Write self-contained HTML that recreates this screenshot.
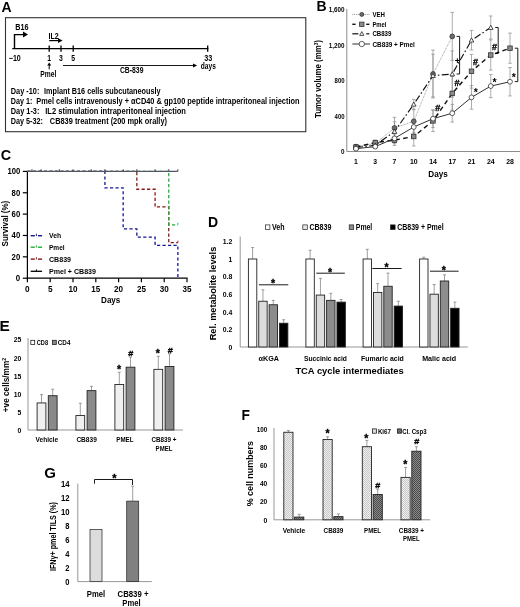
<!DOCTYPE html>
<html lang="en"><head><meta charset="utf-8"><title>Figure</title>
<style>
html,body{margin:0;padding:0;background:#fff;}
body{width:520px;height:607px;overflow:hidden;}
svg{display:block;font-family:'Liberation Sans', sans-serif;}
</style></head><body>
<svg width="520" height="607" viewBox="0 0 520 607">
<defs>
<pattern id="pk" width="2" height="2" patternUnits="userSpaceOnUse"><rect width="2" height="2" fill="#f0f0f0"/><rect width="1" height="1" fill="#c6c6c6"/><rect x="1" y="1" width="1" height="1" fill="#c6c6c6"/></pattern>
<pattern id="pc" width="2" height="2" patternUnits="userSpaceOnUse"><rect width="2" height="2" fill="#8a8a8a"/><rect width="1" height="1" fill="#4a4a4a"/><rect x="1" y="1" width="1" height="1" fill="#4a4a4a"/></pattern>
</defs>
<rect width="520" height="607" fill="#fff"/>
<g id="panelA">
<text x="1.50" y="12.00" font-size="14" font-weight="bold" text-anchor="start" fill="#000">A</text>
<rect x="5.50" y="17.70" width="300.30" height="114.00" fill="none" stroke="#333" stroke-width="1.1"/>
<line x1="12.30" y1="48.60" x2="208.30" y2="48.60" stroke="#000" stroke-width="1.4"/>
<path d="M14.5 48.6 V34.6 H24" fill="none" stroke="#000" stroke-width="1.4"/>
<path d="M23 31.6 L28 34.6 L23 37.6 Z" fill="#000" stroke="none" stroke-width="1"/>
<text x="15.20" y="30.20" font-size="9" font-weight="bold" text-anchor="start" fill="#000" textLength="13.20" lengthAdjust="spacingAndGlyphs">B16</text>
<text x="48.60" y="39.20" font-size="9" font-weight="bold" text-anchor="start" fill="#000" textLength="10.20" lengthAdjust="spacingAndGlyphs">IL2</text>
<line x1="49.20" y1="40.60" x2="59.00" y2="40.60" stroke="#000" stroke-width="1.2"/>
<path d="M58 38.2 L62.6 40.6 L58 43 Z" fill="#000" stroke="none" stroke-width="1"/>
<line x1="49.20" y1="45.40" x2="49.20" y2="51.80" stroke="#000" stroke-width="1.3"/>
<line x1="61.00" y1="45.40" x2="61.00" y2="51.80" stroke="#000" stroke-width="1.3"/>
<line x1="73.20" y1="45.40" x2="73.20" y2="51.80" stroke="#000" stroke-width="1.3"/>
<line x1="207.70" y1="45.40" x2="207.70" y2="51.80" stroke="#000" stroke-width="1.3"/>
<text x="14.80" y="60.60" font-size="8.6" font-weight="bold" text-anchor="middle" fill="#000" textLength="12.00" lengthAdjust="spacingAndGlyphs">−10</text>
<text x="49.20" y="60.60" font-size="8.6" font-weight="bold" text-anchor="middle" fill="#000" textLength="3.80" lengthAdjust="spacingAndGlyphs">1</text>
<text x="61.00" y="60.60" font-size="8.6" font-weight="bold" text-anchor="middle" fill="#000" textLength="3.80" lengthAdjust="spacingAndGlyphs">3</text>
<text x="73.20" y="60.60" font-size="8.6" font-weight="bold" text-anchor="middle" fill="#000" textLength="3.80" lengthAdjust="spacingAndGlyphs">5</text>
<text x="208.30" y="60.60" font-size="8.6" font-weight="bold" text-anchor="middle" fill="#000" textLength="8.00" lengthAdjust="spacingAndGlyphs">33</text>
<text x="208.30" y="68.60" font-size="8.6" font-weight="bold" text-anchor="middle" fill="#000" textLength="15.00" lengthAdjust="spacingAndGlyphs">days</text>
<line x1="49.20" y1="69.40" x2="49.20" y2="64.50" stroke="#000" stroke-width="1"/>
<path d="M47.2 65.6 L49.2 62.4 L51.2 65.6 Z" fill="#000" stroke="none" stroke-width="1"/>
<text x="48.30" y="76.80" font-size="8.6" font-weight="bold" text-anchor="middle" fill="#000" textLength="16.00" lengthAdjust="spacingAndGlyphs">Pmel</text>
<line x1="63.00" y1="65.50" x2="194.00" y2="65.50" stroke="#000" stroke-width="0.9"/>
<path d="M193 63.5 L197.2 65.5 L193 67.5 Z" fill="#000" stroke="none" stroke-width="1"/>
<text x="131.70" y="73.20" font-size="8.6" font-weight="bold" text-anchor="middle" fill="#000" textLength="23.50" lengthAdjust="spacingAndGlyphs">CB-839</text>
<text x="10.80" y="93.90" font-size="9" font-weight="bold" text-anchor="start" fill="#000" textLength="28.60" lengthAdjust="spacingAndGlyphs">Day -10:</text>
<text x="44.00" y="93.90" font-size="9" font-weight="bold" text-anchor="start" fill="#000" textLength="116.50" lengthAdjust="spacingAndGlyphs">Implant B16 cells subcutaneously</text>
<text x="10.80" y="103.90" font-size="9" font-weight="bold" text-anchor="start" fill="#000" textLength="21.50" lengthAdjust="spacingAndGlyphs">Day 1:</text>
<text x="36.30" y="103.90" font-size="9" font-weight="bold" text-anchor="start" fill="#000" textLength="263.20" lengthAdjust="spacingAndGlyphs">Pmel cells intravenously + αCD40 &amp; gp100 peptide intraperitoneal injection</text>
<text x="10.80" y="113.80" font-size="9" font-weight="bold" text-anchor="start" fill="#000" textLength="28.60" lengthAdjust="spacingAndGlyphs">Day 1-3:</text>
<text x="45.20" y="113.80" font-size="9" font-weight="bold" text-anchor="start" fill="#000" textLength="140.80" lengthAdjust="spacingAndGlyphs">IL2 stimulation intraperitoneal injection</text>
<text x="10.80" y="123.70" font-size="9" font-weight="bold" text-anchor="start" fill="#000" textLength="32.20" lengthAdjust="spacingAndGlyphs">Day 5-32:</text>
<text x="49.80" y="123.70" font-size="9" font-weight="bold" text-anchor="start" fill="#000" textLength="117.20" lengthAdjust="spacingAndGlyphs">CB839 treatment (200 mpk orally)</text>
</g>
<g id="panelB">
<text x="316.50" y="11.20" font-size="14" font-weight="bold" text-anchor="start" fill="#000">B</text>
<line x1="346.80" y1="9.00" x2="346.80" y2="151.50" stroke="#8c8c8c" stroke-width="1"/>
<line x1="346.80" y1="151.50" x2="520.00" y2="151.50" stroke="#8c8c8c" stroke-width="1"/>
<text x="344.60" y="12.00" font-size="7" font-weight="bold" text-anchor="end" fill="#000" textLength="15.80" lengthAdjust="spacingAndGlyphs">1,600</text>
<text x="344.60" y="47.50" font-size="7" font-weight="bold" text-anchor="end" fill="#000" textLength="15.80" lengthAdjust="spacingAndGlyphs">1,200</text>
<text x="344.60" y="83.00" font-size="7" font-weight="bold" text-anchor="end" fill="#000" textLength="10.00" lengthAdjust="spacingAndGlyphs">800</text>
<text x="344.60" y="118.50" font-size="7" font-weight="bold" text-anchor="end" fill="#000" textLength="10.00" lengthAdjust="spacingAndGlyphs">400</text>
<text x="344.60" y="154.00" font-size="7" font-weight="bold" text-anchor="end" fill="#000" textLength="3.50" lengthAdjust="spacingAndGlyphs">0</text>
<text x="356.00" y="164.00" font-size="7.6" font-weight="bold" text-anchor="middle" fill="#000" textLength="3.80" lengthAdjust="spacingAndGlyphs">1</text>
<text x="375.25" y="164.00" font-size="7.6" font-weight="bold" text-anchor="middle" fill="#000" textLength="3.80" lengthAdjust="spacingAndGlyphs">3</text>
<text x="394.50" y="164.00" font-size="7.6" font-weight="bold" text-anchor="middle" fill="#000" textLength="3.80" lengthAdjust="spacingAndGlyphs">7</text>
<text x="413.75" y="164.00" font-size="7.6" font-weight="bold" text-anchor="middle" fill="#000" textLength="7.70" lengthAdjust="spacingAndGlyphs">10</text>
<text x="433.00" y="164.00" font-size="7.6" font-weight="bold" text-anchor="middle" fill="#000" textLength="7.70" lengthAdjust="spacingAndGlyphs">14</text>
<text x="452.25" y="164.00" font-size="7.6" font-weight="bold" text-anchor="middle" fill="#000" textLength="7.70" lengthAdjust="spacingAndGlyphs">17</text>
<text x="471.50" y="164.00" font-size="7.6" font-weight="bold" text-anchor="middle" fill="#000" textLength="7.70" lengthAdjust="spacingAndGlyphs">21</text>
<text x="490.75" y="164.00" font-size="7.6" font-weight="bold" text-anchor="middle" fill="#000" textLength="7.70" lengthAdjust="spacingAndGlyphs">24</text>
<text x="510.00" y="164.00" font-size="7.6" font-weight="bold" text-anchor="middle" fill="#000" textLength="7.70" lengthAdjust="spacingAndGlyphs">28</text>
<text x="438.00" y="176.60" font-size="9.7" font-weight="bold" text-anchor="middle" fill="#000" textLength="19.50" lengthAdjust="spacingAndGlyphs">Days</text>
<text x="321.20" y="79.00" font-size="9.2" font-weight="bold" text-anchor="middle" fill="#000" textLength="78.00" lengthAdjust="spacingAndGlyphs" transform="rotate(-90 321.20 79.00)">Tumor volume (mm<tspan font-size="5.4" dy="-3">3</tspan><tspan dy="3">)</tspan></text>
<line x1="356.00" y1="144.84" x2="356.00" y2="148.39" stroke="#8a8a8a" stroke-width="0.7"/>
<line x1="354.20" y1="144.84" x2="357.80" y2="144.84" stroke="#8a8a8a" stroke-width="0.7"/>
<line x1="354.20" y1="148.39" x2="357.80" y2="148.39" stroke="#8a8a8a" stroke-width="0.7"/>
<line x1="375.25" y1="140.85" x2="375.25" y2="146.18" stroke="#8a8a8a" stroke-width="0.7"/>
<line x1="373.45" y1="140.85" x2="377.05" y2="140.85" stroke="#8a8a8a" stroke-width="0.7"/>
<line x1="373.45" y1="146.18" x2="377.05" y2="146.18" stroke="#8a8a8a" stroke-width="0.7"/>
<line x1="394.50" y1="117.33" x2="394.50" y2="138.63" stroke="#8a8a8a" stroke-width="0.7"/>
<line x1="392.70" y1="117.33" x2="396.30" y2="117.33" stroke="#8a8a8a" stroke-width="0.7"/>
<line x1="392.70" y1="138.63" x2="396.30" y2="138.63" stroke="#8a8a8a" stroke-width="0.7"/>
<line x1="413.75" y1="109.79" x2="413.75" y2="132.86" stroke="#8a8a8a" stroke-width="0.7"/>
<line x1="411.95" y1="109.79" x2="415.55" y2="109.79" stroke="#8a8a8a" stroke-width="0.7"/>
<line x1="411.95" y1="132.86" x2="415.55" y2="132.86" stroke="#8a8a8a" stroke-width="0.7"/>
<line x1="433.00" y1="50.06" x2="433.00" y2="97.98" stroke="#8a8a8a" stroke-width="0.7"/>
<line x1="431.20" y1="50.06" x2="434.80" y2="50.06" stroke="#8a8a8a" stroke-width="0.7"/>
<line x1="431.20" y1="97.98" x2="434.80" y2="97.98" stroke="#8a8a8a" stroke-width="0.7"/>
<line x1="452.25" y1="12.43" x2="452.25" y2="60.35" stroke="#8a8a8a" stroke-width="0.7"/>
<line x1="450.45" y1="12.43" x2="454.05" y2="12.43" stroke="#8a8a8a" stroke-width="0.7"/>
<line x1="450.45" y1="60.35" x2="454.05" y2="60.35" stroke="#8a8a8a" stroke-width="0.7"/>
<line x1="356.00" y1="145.29" x2="356.00" y2="148.84" stroke="#8a8a8a" stroke-width="0.7"/>
<line x1="354.20" y1="145.29" x2="357.80" y2="145.29" stroke="#8a8a8a" stroke-width="0.7"/>
<line x1="354.20" y1="148.84" x2="357.80" y2="148.84" stroke="#8a8a8a" stroke-width="0.7"/>
<line x1="375.25" y1="139.96" x2="375.25" y2="145.29" stroke="#8a8a8a" stroke-width="0.7"/>
<line x1="373.45" y1="139.96" x2="377.05" y2="139.96" stroke="#8a8a8a" stroke-width="0.7"/>
<line x1="373.45" y1="145.29" x2="377.05" y2="145.29" stroke="#8a8a8a" stroke-width="0.7"/>
<line x1="394.50" y1="134.81" x2="394.50" y2="145.47" stroke="#8a8a8a" stroke-width="0.7"/>
<line x1="392.70" y1="134.81" x2="396.30" y2="134.81" stroke="#8a8a8a" stroke-width="0.7"/>
<line x1="392.70" y1="145.47" x2="396.30" y2="145.47" stroke="#8a8a8a" stroke-width="0.7"/>
<line x1="413.75" y1="127.00" x2="413.75" y2="146.00" stroke="#8a8a8a" stroke-width="0.7"/>
<line x1="411.95" y1="127.00" x2="415.55" y2="127.00" stroke="#8a8a8a" stroke-width="0.7"/>
<line x1="411.95" y1="146.00" x2="415.55" y2="146.00" stroke="#8a8a8a" stroke-width="0.7"/>
<line x1="433.00" y1="110.23" x2="433.00" y2="131.53" stroke="#8a8a8a" stroke-width="0.7"/>
<line x1="431.20" y1="110.23" x2="434.80" y2="110.23" stroke="#8a8a8a" stroke-width="0.7"/>
<line x1="431.20" y1="131.53" x2="434.80" y2="131.53" stroke="#8a8a8a" stroke-width="0.7"/>
<line x1="452.25" y1="76.51" x2="452.25" y2="110.23" stroke="#8a8a8a" stroke-width="0.7"/>
<line x1="450.45" y1="76.51" x2="454.05" y2="76.51" stroke="#8a8a8a" stroke-width="0.7"/>
<line x1="450.45" y1="110.23" x2="454.05" y2="110.23" stroke="#8a8a8a" stroke-width="0.7"/>
<line x1="471.50" y1="54.41" x2="471.50" y2="88.13" stroke="#8a8a8a" stroke-width="0.7"/>
<line x1="469.70" y1="54.41" x2="473.30" y2="54.41" stroke="#8a8a8a" stroke-width="0.7"/>
<line x1="469.70" y1="88.13" x2="473.30" y2="88.13" stroke="#8a8a8a" stroke-width="0.7"/>
<line x1="490.75" y1="39.94" x2="490.75" y2="70.12" stroke="#8a8a8a" stroke-width="0.7"/>
<line x1="488.95" y1="39.94" x2="492.55" y2="39.94" stroke="#8a8a8a" stroke-width="0.7"/>
<line x1="488.95" y1="70.12" x2="492.55" y2="70.12" stroke="#8a8a8a" stroke-width="0.7"/>
<line x1="510.00" y1="33.11" x2="510.00" y2="63.28" stroke="#8a8a8a" stroke-width="0.7"/>
<line x1="508.20" y1="33.11" x2="511.80" y2="33.11" stroke="#8a8a8a" stroke-width="0.7"/>
<line x1="508.20" y1="63.28" x2="511.80" y2="63.28" stroke="#8a8a8a" stroke-width="0.7"/>
<line x1="356.00" y1="145.73" x2="356.00" y2="149.28" stroke="#8a8a8a" stroke-width="0.7"/>
<line x1="354.20" y1="145.73" x2="357.80" y2="145.73" stroke="#8a8a8a" stroke-width="0.7"/>
<line x1="354.20" y1="149.28" x2="357.80" y2="149.28" stroke="#8a8a8a" stroke-width="0.7"/>
<line x1="375.25" y1="142.62" x2="375.25" y2="147.95" stroke="#8a8a8a" stroke-width="0.7"/>
<line x1="373.45" y1="142.62" x2="377.05" y2="142.62" stroke="#8a8a8a" stroke-width="0.7"/>
<line x1="373.45" y1="147.95" x2="377.05" y2="147.95" stroke="#8a8a8a" stroke-width="0.7"/>
<line x1="394.50" y1="121.77" x2="394.50" y2="141.29" stroke="#8a8a8a" stroke-width="0.7"/>
<line x1="392.70" y1="121.77" x2="396.30" y2="121.77" stroke="#8a8a8a" stroke-width="0.7"/>
<line x1="392.70" y1="141.29" x2="396.30" y2="141.29" stroke="#8a8a8a" stroke-width="0.7"/>
<line x1="413.75" y1="99.40" x2="413.75" y2="109.17" stroke="#8a8a8a" stroke-width="0.7"/>
<line x1="411.95" y1="99.40" x2="415.55" y2="99.40" stroke="#8a8a8a" stroke-width="0.7"/>
<line x1="411.95" y1="109.17" x2="415.55" y2="109.17" stroke="#8a8a8a" stroke-width="0.7"/>
<line x1="433.00" y1="54.32" x2="433.00" y2="96.92" stroke="#8a8a8a" stroke-width="0.7"/>
<line x1="431.20" y1="54.32" x2="434.80" y2="54.32" stroke="#8a8a8a" stroke-width="0.7"/>
<line x1="431.20" y1="96.92" x2="434.80" y2="96.92" stroke="#8a8a8a" stroke-width="0.7"/>
<line x1="452.25" y1="50.95" x2="452.25" y2="97.10" stroke="#8a8a8a" stroke-width="0.7"/>
<line x1="450.45" y1="50.95" x2="454.05" y2="50.95" stroke="#8a8a8a" stroke-width="0.7"/>
<line x1="450.45" y1="97.10" x2="454.05" y2="97.10" stroke="#8a8a8a" stroke-width="0.7"/>
<line x1="471.50" y1="30.45" x2="471.50" y2="49.97" stroke="#8a8a8a" stroke-width="0.7"/>
<line x1="469.70" y1="30.45" x2="473.30" y2="30.45" stroke="#8a8a8a" stroke-width="0.7"/>
<line x1="469.70" y1="49.97" x2="473.30" y2="49.97" stroke="#8a8a8a" stroke-width="0.7"/>
<line x1="490.75" y1="15.98" x2="490.75" y2="39.05" stroke="#8a8a8a" stroke-width="0.7"/>
<line x1="488.95" y1="15.98" x2="492.55" y2="15.98" stroke="#8a8a8a" stroke-width="0.7"/>
<line x1="488.95" y1="39.05" x2="492.55" y2="39.05" stroke="#8a8a8a" stroke-width="0.7"/>
<line x1="356.00" y1="147.33" x2="356.00" y2="149.99" stroke="#8a8a8a" stroke-width="0.7"/>
<line x1="354.20" y1="147.33" x2="357.80" y2="147.33" stroke="#8a8a8a" stroke-width="0.7"/>
<line x1="354.20" y1="149.99" x2="357.80" y2="149.99" stroke="#8a8a8a" stroke-width="0.7"/>
<line x1="375.25" y1="144.84" x2="375.25" y2="148.39" stroke="#8a8a8a" stroke-width="0.7"/>
<line x1="373.45" y1="144.84" x2="377.05" y2="144.84" stroke="#8a8a8a" stroke-width="0.7"/>
<line x1="373.45" y1="148.39" x2="377.05" y2="148.39" stroke="#8a8a8a" stroke-width="0.7"/>
<line x1="394.50" y1="133.04" x2="394.50" y2="143.69" stroke="#8a8a8a" stroke-width="0.7"/>
<line x1="392.70" y1="133.04" x2="396.30" y2="133.04" stroke="#8a8a8a" stroke-width="0.7"/>
<line x1="392.70" y1="143.69" x2="396.30" y2="143.69" stroke="#8a8a8a" stroke-width="0.7"/>
<line x1="413.75" y1="119.91" x2="413.75" y2="134.10" stroke="#8a8a8a" stroke-width="0.7"/>
<line x1="411.95" y1="119.91" x2="415.55" y2="119.91" stroke="#8a8a8a" stroke-width="0.7"/>
<line x1="411.95" y1="134.10" x2="415.55" y2="134.10" stroke="#8a8a8a" stroke-width="0.7"/>
<line x1="433.00" y1="109.79" x2="433.00" y2="127.54" stroke="#8a8a8a" stroke-width="0.7"/>
<line x1="431.20" y1="109.79" x2="434.80" y2="109.79" stroke="#8a8a8a" stroke-width="0.7"/>
<line x1="431.20" y1="127.54" x2="434.80" y2="127.54" stroke="#8a8a8a" stroke-width="0.7"/>
<line x1="452.25" y1="104.37" x2="452.25" y2="122.12" stroke="#8a8a8a" stroke-width="0.7"/>
<line x1="450.45" y1="104.37" x2="454.05" y2="104.37" stroke="#8a8a8a" stroke-width="0.7"/>
<line x1="450.45" y1="122.12" x2="454.05" y2="122.12" stroke="#8a8a8a" stroke-width="0.7"/>
<line x1="471.50" y1="85.56" x2="471.50" y2="109.17" stroke="#8a8a8a" stroke-width="0.7"/>
<line x1="469.70" y1="85.56" x2="473.30" y2="85.56" stroke="#8a8a8a" stroke-width="0.7"/>
<line x1="469.70" y1="109.17" x2="473.30" y2="109.17" stroke="#8a8a8a" stroke-width="0.7"/>
<line x1="490.75" y1="74.55" x2="490.75" y2="97.63" stroke="#8a8a8a" stroke-width="0.7"/>
<line x1="488.95" y1="74.55" x2="492.55" y2="74.55" stroke="#8a8a8a" stroke-width="0.7"/>
<line x1="488.95" y1="97.63" x2="492.55" y2="97.63" stroke="#8a8a8a" stroke-width="0.7"/>
<line x1="510.00" y1="67.54" x2="510.00" y2="95.94" stroke="#8a8a8a" stroke-width="0.7"/>
<line x1="508.20" y1="67.54" x2="511.80" y2="67.54" stroke="#8a8a8a" stroke-width="0.7"/>
<line x1="508.20" y1="95.94" x2="511.80" y2="95.94" stroke="#8a8a8a" stroke-width="0.7"/>
<polyline points="356.00,146.62 375.25,143.51 394.50,127.98 413.75,121.33 433.00,74.02 452.25,36.39" fill="none" stroke="#555" stroke-width="0.6" stroke-dasharray="0.8 0.8"/>
<polyline points="356.00,147.06 375.25,142.62 394.50,140.14 413.75,136.50 433.00,120.88 452.25,93.37 471.50,71.27 490.75,55.03 510.00,48.20" fill="none" stroke="#111" stroke-width="1.45" stroke-dasharray="4.6 3.4"/>
<polyline points="356.00,147.51 375.25,145.29 394.50,131.53 413.75,104.28 433.00,75.62 452.25,74.02 471.50,40.21 490.75,27.52" fill="none" stroke="#111" stroke-width="1.15" stroke-dasharray="7 2.4 1.5 2.4"/>
<polyline points="356.00,148.66 375.25,146.62 394.50,138.37 413.75,127.00 433.00,118.66 452.25,113.25 471.50,97.36 490.75,86.09 510.00,81.74" fill="none" stroke="#333" stroke-width="1"/>
<circle cx="356.00" cy="146.62" r="2.4" fill="#6e6e6e" stroke="#222" stroke-width="0.7"/>
<circle cx="375.25" cy="143.51" r="2.4" fill="#6e6e6e" stroke="#222" stroke-width="0.7"/>
<circle cx="394.50" cy="127.98" r="2.4" fill="#6e6e6e" stroke="#222" stroke-width="0.7"/>
<circle cx="413.75" cy="121.33" r="2.4" fill="#6e6e6e" stroke="#222" stroke-width="0.7"/>
<circle cx="433.00" cy="74.02" r="2.4" fill="#6e6e6e" stroke="#222" stroke-width="0.7"/>
<circle cx="452.25" cy="36.39" r="2.4" fill="#6e6e6e" stroke="#222" stroke-width="0.7"/>
<rect x="353.75" y="144.81" width="4.50" height="4.50" fill="#8a8a8a" stroke="#333" stroke-width="0.8"/>
<rect x="373.00" y="140.38" width="4.50" height="4.50" fill="#8a8a8a" stroke="#333" stroke-width="0.8"/>
<rect x="392.25" y="137.89" width="4.50" height="4.50" fill="#8a8a8a" stroke="#333" stroke-width="0.8"/>
<rect x="411.50" y="134.25" width="4.50" height="4.50" fill="#8a8a8a" stroke="#333" stroke-width="0.8"/>
<rect x="430.75" y="118.63" width="4.50" height="4.50" fill="#8a8a8a" stroke="#333" stroke-width="0.8"/>
<rect x="450.00" y="91.12" width="4.50" height="4.50" fill="#8a8a8a" stroke="#333" stroke-width="0.8"/>
<rect x="469.25" y="69.02" width="4.50" height="4.50" fill="#8a8a8a" stroke="#333" stroke-width="0.8"/>
<rect x="488.50" y="52.78" width="4.50" height="4.50" fill="#8a8a8a" stroke="#333" stroke-width="0.8"/>
<rect x="507.75" y="45.95" width="4.50" height="4.50" fill="#8a8a8a" stroke="#333" stroke-width="0.8"/>
<path d="M356.00 145.21 L358.30 149.35 L353.70 149.35 Z" fill="#fff" stroke="#222" stroke-width="0.8"/>
<path d="M375.25 142.99 L377.55 147.13 L372.95 147.13 Z" fill="#fff" stroke="#222" stroke-width="0.8"/>
<path d="M394.50 129.23 L396.80 133.37 L392.20 133.37 Z" fill="#fff" stroke="#222" stroke-width="0.8"/>
<path d="M413.75 101.98 L416.05 106.12 L411.45 106.12 Z" fill="#fff" stroke="#222" stroke-width="0.8"/>
<path d="M433.00 73.32 L435.30 77.46 L430.70 77.46 Z" fill="#fff" stroke="#222" stroke-width="0.8"/>
<path d="M452.25 71.72 L454.55 75.86 L449.95 75.86 Z" fill="#fff" stroke="#222" stroke-width="0.8"/>
<path d="M471.50 37.91 L473.80 42.05 L469.20 42.05 Z" fill="#fff" stroke="#222" stroke-width="0.8"/>
<path d="M490.75 25.22 L493.05 29.36 L488.45 29.36 Z" fill="#fff" stroke="#222" stroke-width="0.8"/>
<circle cx="356.00" cy="148.66" r="2.4" fill="#fff" stroke="#222" stroke-width="0.7"/>
<circle cx="375.25" cy="146.62" r="2.4" fill="#fff" stroke="#222" stroke-width="0.7"/>
<circle cx="394.50" cy="138.37" r="2.4" fill="#fff" stroke="#222" stroke-width="0.7"/>
<circle cx="413.75" cy="127.00" r="2.4" fill="#fff" stroke="#222" stroke-width="0.7"/>
<circle cx="433.00" cy="118.66" r="2.4" fill="#fff" stroke="#222" stroke-width="0.7"/>
<circle cx="452.25" cy="113.25" r="2.4" fill="#fff" stroke="#222" stroke-width="0.7"/>
<circle cx="471.50" cy="97.36" r="2.4" fill="#fff" stroke="#222" stroke-width="0.7"/>
<circle cx="490.75" cy="86.09" r="2.4" fill="#fff" stroke="#222" stroke-width="0.7"/>
<circle cx="510.00" cy="81.74" r="2.4" fill="#fff" stroke="#222" stroke-width="0.7"/>
<line x1="352.30" y1="14.40" x2="369.40" y2="14.40" stroke="#555" stroke-width="0.7" stroke-dasharray="0.9 0.9"/>
<circle cx="361.80" cy="14.40" r="2.0" fill="#6e6e6e" stroke="#222" stroke-width="0.7"/>
<text x="372.40" y="16.90" font-size="7.4" font-weight="bold" text-anchor="start" fill="#000" textLength="12.50" lengthAdjust="spacingAndGlyphs">VEH</text>
<line x1="352.30" y1="24.30" x2="355.60" y2="24.30" stroke="#111" stroke-width="1.4"/>
<line x1="366.20" y1="24.30" x2="369.40" y2="24.30" stroke="#111" stroke-width="1.4"/>
<rect x="359.60" y="22.10" width="4.40" height="4.40" fill="#8a8a8a" stroke="#333" stroke-width="0.8"/>
<text x="372.40" y="26.80" font-size="7.4" font-weight="bold" text-anchor="start" fill="#000" textLength="14.00" lengthAdjust="spacingAndGlyphs">Pmel</text>
<line x1="352.30" y1="33.80" x2="358.40" y2="33.80" stroke="#111" stroke-width="1.2"/>
<line x1="366.20" y1="33.80" x2="369.40" y2="33.80" stroke="#111" stroke-width="1.2"/>
<path d="M361.80 31.60 L363.90 35.38 L359.70 35.38 Z" fill="#fff" stroke="#222" stroke-width="0.8"/>
<text x="372.40" y="36.30" font-size="7.4" font-weight="bold" text-anchor="start" fill="#000" textLength="19.00" lengthAdjust="spacingAndGlyphs">CB839</text>
<line x1="352.30" y1="44.00" x2="370.00" y2="44.00" stroke="#333" stroke-width="1"/>
<circle cx="361.80" cy="44.00" r="2.7" fill="#fff" stroke="#222" stroke-width="0.7"/>
<text x="372.40" y="46.50" font-size="7.4" font-weight="bold" text-anchor="start" fill="#000" textLength="42.50" lengthAdjust="spacingAndGlyphs">CB839 + Pmel</text>
<path d="M456.6 36.4 H459.6 V74.0 H456.6" fill="none" stroke="#000" stroke-width="0.9"/>
<path d="M495.2 27.5 H498.2 V53.5 H495.2" fill="none" stroke="#000" stroke-width="0.9"/>
<path d="M514.8 48.2 H517.8 V81.6 H514.8" fill="none" stroke="#000" stroke-width="0.9"/>
<text x="457.40" y="63.80" font-size="9" font-weight="bold" text-anchor="middle" fill="#000">+</text>
<text x="437.80" y="110.60" font-size="9" font-weight="bold" text-anchor="middle" fill="#000" stroke="#000" stroke-width="0.35">#</text>
<text x="457.00" y="86.20" font-size="9" font-weight="bold" text-anchor="middle" fill="#000" stroke="#000" stroke-width="0.35">#</text>
<text x="475.40" y="65.00" font-size="9" font-weight="bold" text-anchor="middle" fill="#000" stroke="#000" stroke-width="0.35">#</text>
<text x="494.60" y="50.20" font-size="9" font-weight="bold" text-anchor="middle" fill="#000" stroke="#000" stroke-width="0.35">#</text>
<text x="475.80" y="96.40" font-size="10.5" font-weight="bold" text-anchor="middle" fill="#000">*</text>
<text x="494.60" y="86.40" font-size="10.5" font-weight="bold" text-anchor="middle" fill="#000">*</text>
<text x="513.80" y="81.20" font-size="10.5" font-weight="bold" text-anchor="middle" fill="#000">*</text>
</g>
<g id="panelC">
<text x="0.80" y="159.60" font-size="14.4" font-weight="bold" text-anchor="start" fill="#000">C</text>
<line x1="27.40" y1="170.90" x2="27.40" y2="278.80" stroke="#000" stroke-width="1.2"/>
<line x1="26.80" y1="278.20" x2="187.60" y2="278.20" stroke="#000" stroke-width="1.2"/>
<line x1="22.80" y1="278.20" x2="27.40" y2="278.20" stroke="#000" stroke-width="1.2"/>
<text x="20.20" y="281.10" font-size="8.3" font-weight="bold" text-anchor="end" fill="#000" textLength="4.40" lengthAdjust="spacingAndGlyphs">0</text>
<line x1="22.80" y1="256.84" x2="27.40" y2="256.84" stroke="#000" stroke-width="1.2"/>
<text x="20.20" y="259.74" font-size="8.3" font-weight="bold" text-anchor="end" fill="#000" textLength="8.60" lengthAdjust="spacingAndGlyphs">20</text>
<line x1="22.80" y1="235.48" x2="27.40" y2="235.48" stroke="#000" stroke-width="1.2"/>
<text x="20.20" y="238.38" font-size="8.3" font-weight="bold" text-anchor="end" fill="#000" textLength="8.60" lengthAdjust="spacingAndGlyphs">40</text>
<line x1="22.80" y1="214.12" x2="27.40" y2="214.12" stroke="#000" stroke-width="1.2"/>
<text x="20.20" y="217.02" font-size="8.3" font-weight="bold" text-anchor="end" fill="#000" textLength="8.60" lengthAdjust="spacingAndGlyphs">60</text>
<line x1="22.80" y1="192.76" x2="27.40" y2="192.76" stroke="#000" stroke-width="1.2"/>
<text x="20.20" y="195.66" font-size="8.3" font-weight="bold" text-anchor="end" fill="#000" textLength="8.60" lengthAdjust="spacingAndGlyphs">80</text>
<line x1="22.80" y1="171.40" x2="27.40" y2="171.40" stroke="#000" stroke-width="1.2"/>
<text x="20.20" y="174.30" font-size="8.3" font-weight="bold" text-anchor="end" fill="#000" textLength="12.80" lengthAdjust="spacingAndGlyphs">100</text>
<line x1="27.40" y1="278.20" x2="27.40" y2="282.20" stroke="#000" stroke-width="1.2"/>
<text x="27.40" y="292.20" font-size="8.3" font-weight="bold" text-anchor="middle" fill="#000" textLength="4.60" lengthAdjust="spacingAndGlyphs">0</text>
<line x1="50.20" y1="278.20" x2="50.20" y2="282.20" stroke="#000" stroke-width="1.2"/>
<text x="50.20" y="292.20" font-size="8.3" font-weight="bold" text-anchor="middle" fill="#000" textLength="4.60" lengthAdjust="spacingAndGlyphs">5</text>
<line x1="73.00" y1="278.20" x2="73.00" y2="282.20" stroke="#000" stroke-width="1.2"/>
<text x="73.00" y="292.20" font-size="8.3" font-weight="bold" text-anchor="middle" fill="#000" textLength="9.00" lengthAdjust="spacingAndGlyphs">10</text>
<line x1="95.80" y1="278.20" x2="95.80" y2="282.20" stroke="#000" stroke-width="1.2"/>
<text x="95.80" y="292.20" font-size="8.3" font-weight="bold" text-anchor="middle" fill="#000" textLength="9.00" lengthAdjust="spacingAndGlyphs">15</text>
<line x1="118.60" y1="278.20" x2="118.60" y2="282.20" stroke="#000" stroke-width="1.2"/>
<text x="118.60" y="292.20" font-size="8.3" font-weight="bold" text-anchor="middle" fill="#000" textLength="9.00" lengthAdjust="spacingAndGlyphs">20</text>
<line x1="141.40" y1="278.20" x2="141.40" y2="282.20" stroke="#000" stroke-width="1.2"/>
<text x="141.40" y="292.20" font-size="8.3" font-weight="bold" text-anchor="middle" fill="#000" textLength="9.00" lengthAdjust="spacingAndGlyphs">25</text>
<line x1="164.20" y1="278.20" x2="164.20" y2="282.20" stroke="#000" stroke-width="1.2"/>
<text x="164.20" y="292.20" font-size="8.3" font-weight="bold" text-anchor="middle" fill="#000" textLength="9.00" lengthAdjust="spacingAndGlyphs">30</text>
<line x1="187.00" y1="278.20" x2="187.00" y2="282.20" stroke="#000" stroke-width="1.2"/>
<text x="187.00" y="292.20" font-size="8.3" font-weight="bold" text-anchor="middle" fill="#000" textLength="9.00" lengthAdjust="spacingAndGlyphs">35</text>
<text x="110.70" y="303.00" font-size="9" font-weight="bold" text-anchor="middle" fill="#000" textLength="19.30" lengthAdjust="spacingAndGlyphs">Days</text>
<text x="7.70" y="223.60" font-size="8.2" font-weight="bold" text-anchor="middle" fill="#000" textLength="45.70" lengthAdjust="spacingAndGlyphs" transform="rotate(-90 7.70 223.60)">Survival (%)</text>
<path d="M27.40 171.40 H104.92 V187.85 H123.16 V228.86 H136.84 V237.08 H155.08 V245.31 H177.88 V278.20" fill="none" stroke="#141496" stroke-width="1.3" stroke-dasharray="3.2 2.3"/>
<path d="M27.40 171.40 H136.84 V189.24 H155.08 V206.96 H168.76 V242.64 H177.88 V242.64" fill="none" stroke="#8c1414" stroke-width="1.3" stroke-dasharray="3.2 2.3"/>
<path d="M27.40 171.40 H168.76 V224.80 H177.88 V224.80" fill="none" stroke="#18b430" stroke-width="1.3" stroke-dasharray="3.2 2.3"/>
<line x1="177.88" y1="222.80" x2="177.88" y2="224.80" stroke="#18b430" stroke-width="0.9"/>
<line x1="177.88" y1="240.64" x2="177.88" y2="242.64" stroke="#8c1414" stroke-width="0.9"/>
<line x1="27.40" y1="171.40" x2="177.88" y2="171.40" stroke="#55556a" stroke-width="1.1"/>
<line x1="31.96" y1="169.20" x2="31.96" y2="171.40" stroke="#33334a" stroke-width="0.9"/>
<line x1="41.08" y1="169.20" x2="41.08" y2="171.40" stroke="#33334a" stroke-width="0.9"/>
<line x1="59.32" y1="169.20" x2="59.32" y2="171.40" stroke="#33334a" stroke-width="0.9"/>
<line x1="73.00" y1="169.20" x2="73.00" y2="171.40" stroke="#33334a" stroke-width="0.9"/>
<line x1="91.24" y1="169.20" x2="91.24" y2="171.40" stroke="#33334a" stroke-width="0.9"/>
<line x1="104.92" y1="169.20" x2="104.92" y2="171.40" stroke="#33334a" stroke-width="0.9"/>
<line x1="123.16" y1="169.20" x2="123.16" y2="171.40" stroke="#33334a" stroke-width="0.9"/>
<line x1="136.84" y1="169.20" x2="136.84" y2="171.40" stroke="#33334a" stroke-width="0.9"/>
<line x1="155.08" y1="169.20" x2="155.08" y2="171.40" stroke="#33334a" stroke-width="0.9"/>
<line x1="168.76" y1="169.20" x2="168.76" y2="171.40" stroke="#33334a" stroke-width="0.9"/>
<line x1="177.88" y1="169.20" x2="177.88" y2="171.40" stroke="#33334a" stroke-width="0.9"/>
<line x1="30.70" y1="235.70" x2="34.80" y2="235.70" stroke="#141496" stroke-width="1.4"/>
<line x1="38.00" y1="235.70" x2="42.10" y2="235.70" stroke="#141496" stroke-width="1.4"/>
<line x1="36.40" y1="233.70" x2="36.40" y2="236.10" stroke="#141496" stroke-width="0.9"/>
<text x="49.00" y="238.40" font-size="7.6" font-weight="bold" text-anchor="start" fill="#000" textLength="12.10" lengthAdjust="spacingAndGlyphs">Veh</text>
<line x1="30.70" y1="247.20" x2="34.80" y2="247.20" stroke="#18b430" stroke-width="1.4"/>
<line x1="38.00" y1="247.20" x2="42.10" y2="247.20" stroke="#18b430" stroke-width="1.4"/>
<line x1="36.40" y1="245.20" x2="36.40" y2="247.60" stroke="#18b430" stroke-width="0.9"/>
<text x="49.00" y="249.90" font-size="7.6" font-weight="bold" text-anchor="start" fill="#000" textLength="15.60" lengthAdjust="spacingAndGlyphs">Pmel</text>
<line x1="30.70" y1="259.10" x2="34.80" y2="259.10" stroke="#8c1414" stroke-width="1.4"/>
<line x1="38.00" y1="259.10" x2="42.10" y2="259.10" stroke="#8c1414" stroke-width="1.4"/>
<line x1="36.40" y1="257.10" x2="36.40" y2="259.50" stroke="#8c1414" stroke-width="0.9"/>
<text x="49.00" y="261.80" font-size="7.6" font-weight="bold" text-anchor="start" fill="#000" textLength="22.00" lengthAdjust="spacingAndGlyphs">CB839</text>
<line x1="30.70" y1="271.30" x2="42.10" y2="271.30" stroke="#000" stroke-width="1.3"/>
<line x1="36.40" y1="269.30" x2="36.40" y2="271.30" stroke="#000" stroke-width="0.9"/>
<text x="49.00" y="274.00" font-size="7.6" font-weight="bold" text-anchor="start" fill="#000" textLength="47.00" lengthAdjust="spacingAndGlyphs">Pmel + CB839</text>
</g>
<g id="panelD">
<text x="208.00" y="226.90" font-size="14" font-weight="bold" text-anchor="start" fill="#000">D</text>
<line x1="240.20" y1="236.50" x2="240.20" y2="347.00" stroke="#8c8c8c" stroke-width="0.9"/>
<line x1="240.20" y1="347.00" x2="467.80" y2="347.00" stroke="#8c8c8c" stroke-width="0.9"/>
<text x="232.30" y="349.80" font-size="7.8" font-weight="bold" text-anchor="end" fill="#000" textLength="3.80" lengthAdjust="spacingAndGlyphs">0</text>
<text x="232.30" y="332.20" font-size="7.8" font-weight="bold" text-anchor="end" fill="#000" textLength="9.60" lengthAdjust="spacingAndGlyphs">0.2</text>
<text x="232.30" y="314.60" font-size="7.8" font-weight="bold" text-anchor="end" fill="#000" textLength="9.60" lengthAdjust="spacingAndGlyphs">0.4</text>
<text x="232.30" y="297.00" font-size="7.8" font-weight="bold" text-anchor="end" fill="#000" textLength="9.60" lengthAdjust="spacingAndGlyphs">0.6</text>
<text x="232.30" y="279.40" font-size="7.8" font-weight="bold" text-anchor="end" fill="#000" textLength="9.60" lengthAdjust="spacingAndGlyphs">0.8</text>
<text x="232.30" y="261.80" font-size="7.8" font-weight="bold" text-anchor="end" fill="#000" textLength="3.80" lengthAdjust="spacingAndGlyphs">1</text>
<text x="232.30" y="244.20" font-size="7.8" font-weight="bold" text-anchor="end" fill="#000" textLength="9.60" lengthAdjust="spacingAndGlyphs">1.2</text>
<text x="215.80" y="293.50" font-size="9.2" font-weight="bold" text-anchor="middle" fill="#000" textLength="93.60" lengthAdjust="spacingAndGlyphs" transform="rotate(-90 215.80 293.50)">Rel. metabolite levels</text>
<line x1="252.60" y1="259.00" x2="252.60" y2="247.56" stroke="#777" stroke-width="0.7"/>
<line x1="251.10" y1="247.56" x2="254.10" y2="247.56" stroke="#777" stroke-width="0.7"/>
<rect x="248.40" y="259.00" width="8.40" height="88.00" fill="#fff" stroke="#222" stroke-width="0.9"/>
<line x1="262.95" y1="301.24" x2="262.95" y2="289.80" stroke="#777" stroke-width="0.7"/>
<line x1="261.45" y1="289.80" x2="264.45" y2="289.80" stroke="#777" stroke-width="0.7"/>
<rect x="258.75" y="301.24" width="8.40" height="45.76" fill="#dcdcdc" stroke="#222" stroke-width="0.9"/>
<line x1="273.30" y1="304.76" x2="273.30" y2="300.36" stroke="#777" stroke-width="0.7"/>
<line x1="271.80" y1="300.36" x2="274.80" y2="300.36" stroke="#777" stroke-width="0.7"/>
<rect x="269.10" y="304.76" width="8.40" height="42.24" fill="#8c8c8c" stroke="#222" stroke-width="0.9"/>
<line x1="283.65" y1="323.24" x2="283.65" y2="319.72" stroke="#777" stroke-width="0.7"/>
<line x1="282.15" y1="319.72" x2="285.15" y2="319.72" stroke="#777" stroke-width="0.7"/>
<rect x="279.45" y="323.24" width="8.40" height="23.76" fill="#000" stroke="#222" stroke-width="0.9"/>
<text x="268.80" y="361.20" font-size="7.8" font-weight="bold" text-anchor="middle" fill="#000" textLength="20.50" lengthAdjust="spacingAndGlyphs">αKGA</text>
<line x1="310.10" y1="259.00" x2="310.10" y2="250.20" stroke="#777" stroke-width="0.7"/>
<line x1="308.60" y1="250.20" x2="311.60" y2="250.20" stroke="#777" stroke-width="0.7"/>
<rect x="305.90" y="259.00" width="8.40" height="88.00" fill="#fff" stroke="#222" stroke-width="0.9"/>
<line x1="320.45" y1="295.08" x2="320.45" y2="278.36" stroke="#777" stroke-width="0.7"/>
<line x1="318.95" y1="278.36" x2="321.95" y2="278.36" stroke="#777" stroke-width="0.7"/>
<rect x="316.25" y="295.08" width="8.40" height="51.92" fill="#dcdcdc" stroke="#222" stroke-width="0.9"/>
<line x1="330.80" y1="300.36" x2="330.80" y2="293.32" stroke="#777" stroke-width="0.7"/>
<line x1="329.30" y1="293.32" x2="332.30" y2="293.32" stroke="#777" stroke-width="0.7"/>
<rect x="326.60" y="300.36" width="8.40" height="46.64" fill="#8c8c8c" stroke="#222" stroke-width="0.9"/>
<line x1="341.15" y1="302.12" x2="341.15" y2="299.48" stroke="#777" stroke-width="0.7"/>
<line x1="339.65" y1="299.48" x2="342.65" y2="299.48" stroke="#777" stroke-width="0.7"/>
<rect x="336.95" y="302.12" width="8.40" height="44.88" fill="#000" stroke="#222" stroke-width="0.9"/>
<text x="325.40" y="361.20" font-size="7.8" font-weight="bold" text-anchor="middle" fill="#000" textLength="43.00" lengthAdjust="spacingAndGlyphs">Succinic acid</text>
<line x1="367.30" y1="259.00" x2="367.30" y2="249.32" stroke="#777" stroke-width="0.7"/>
<line x1="365.80" y1="249.32" x2="368.80" y2="249.32" stroke="#777" stroke-width="0.7"/>
<rect x="363.10" y="259.00" width="8.40" height="88.00" fill="#fff" stroke="#222" stroke-width="0.9"/>
<line x1="377.65" y1="292.44" x2="377.65" y2="283.64" stroke="#777" stroke-width="0.7"/>
<line x1="376.15" y1="283.64" x2="379.15" y2="283.64" stroke="#777" stroke-width="0.7"/>
<rect x="373.45" y="292.44" width="8.40" height="54.56" fill="#dcdcdc" stroke="#222" stroke-width="0.9"/>
<line x1="388.00" y1="286.28" x2="388.00" y2="273.08" stroke="#777" stroke-width="0.7"/>
<line x1="386.50" y1="273.08" x2="389.50" y2="273.08" stroke="#777" stroke-width="0.7"/>
<rect x="383.80" y="286.28" width="8.40" height="60.72" fill="#8c8c8c" stroke="#222" stroke-width="0.9"/>
<line x1="398.35" y1="306.08" x2="398.35" y2="301.24" stroke="#777" stroke-width="0.7"/>
<line x1="396.85" y1="301.24" x2="399.85" y2="301.24" stroke="#777" stroke-width="0.7"/>
<rect x="394.15" y="306.08" width="8.40" height="40.92" fill="#000" stroke="#222" stroke-width="0.9"/>
<text x="382.40" y="361.20" font-size="7.8" font-weight="bold" text-anchor="middle" fill="#000" textLength="42.80" lengthAdjust="spacingAndGlyphs">Fumaric acid</text>
<line x1="423.80" y1="259.00" x2="423.80" y2="257.24" stroke="#777" stroke-width="0.7"/>
<line x1="422.30" y1="257.24" x2="425.30" y2="257.24" stroke="#777" stroke-width="0.7"/>
<rect x="419.60" y="259.00" width="8.40" height="88.00" fill="#fff" stroke="#222" stroke-width="0.9"/>
<line x1="434.15" y1="294.20" x2="434.15" y2="284.52" stroke="#777" stroke-width="0.7"/>
<line x1="432.65" y1="284.52" x2="435.65" y2="284.52" stroke="#777" stroke-width="0.7"/>
<rect x="429.95" y="294.20" width="8.40" height="52.80" fill="#dcdcdc" stroke="#222" stroke-width="0.9"/>
<line x1="444.50" y1="281.00" x2="444.50" y2="274.84" stroke="#777" stroke-width="0.7"/>
<line x1="443.00" y1="274.84" x2="446.00" y2="274.84" stroke="#777" stroke-width="0.7"/>
<rect x="440.30" y="281.00" width="8.40" height="66.00" fill="#8c8c8c" stroke="#222" stroke-width="0.9"/>
<line x1="454.85" y1="308.28" x2="454.85" y2="302.12" stroke="#777" stroke-width="0.7"/>
<line x1="453.35" y1="302.12" x2="456.35" y2="302.12" stroke="#777" stroke-width="0.7"/>
<rect x="450.65" y="308.28" width="8.40" height="38.72" fill="#000" stroke="#222" stroke-width="0.9"/>
<text x="439.20" y="361.20" font-size="7.8" font-weight="bold" text-anchor="middle" fill="#000" textLength="34.00" lengthAdjust="spacingAndGlyphs">Malic acid</text>
<text x="349.60" y="374.40" font-size="9.3" font-weight="bold" text-anchor="middle" fill="#000" textLength="108.40" lengthAdjust="spacingAndGlyphs">TCA cycle intermediates</text>
<line x1="259.00" y1="284.80" x2="288.30" y2="284.80" stroke="#000" stroke-width="0.9"/>
<text x="273.15" y="287.20" font-size="10.5" font-weight="bold" text-anchor="middle" fill="#000" stroke="#000" stroke-width="0.35">*</text>
<line x1="316.30" y1="273.20" x2="344.80" y2="273.20" stroke="#000" stroke-width="0.9"/>
<text x="330.05" y="275.60" font-size="10.5" font-weight="bold" text-anchor="middle" fill="#000" stroke="#000" stroke-width="0.35">*</text>
<line x1="372.30" y1="268.50" x2="401.60" y2="268.50" stroke="#000" stroke-width="0.9"/>
<text x="386.45" y="270.90" font-size="10.5" font-weight="bold" text-anchor="middle" fill="#000" stroke="#000" stroke-width="0.35">*</text>
<line x1="430.00" y1="271.20" x2="458.60" y2="271.20" stroke="#000" stroke-width="0.9"/>
<text x="443.80" y="273.60" font-size="10.5" font-weight="bold" text-anchor="middle" fill="#000" stroke="#000" stroke-width="0.35">*</text>
<rect x="265.40" y="224.90" width="4.50" height="4.60" fill="#fff" stroke="#222" stroke-width="0.7"/>
<text x="272.00" y="230.00" font-size="8.2" font-weight="bold" text-anchor="start" fill="#000" textLength="12.60" lengthAdjust="spacingAndGlyphs">Veh</text>
<rect x="302.80" y="224.90" width="4.50" height="4.60" fill="#e6e6e6" stroke="#222" stroke-width="0.7"/>
<text x="309.40" y="230.00" font-size="8.2" font-weight="bold" text-anchor="start" fill="#000" textLength="22.00" lengthAdjust="spacingAndGlyphs">CB839</text>
<rect x="349.20" y="224.90" width="4.50" height="4.60" fill="#8c8c8c" stroke="#222" stroke-width="0.7"/>
<text x="355.80" y="230.00" font-size="8.2" font-weight="bold" text-anchor="start" fill="#000" textLength="16.50" lengthAdjust="spacingAndGlyphs">Pmel</text>
<rect x="390.60" y="224.90" width="4.50" height="4.60" fill="#000" stroke="#222" stroke-width="0.7"/>
<text x="397.20" y="230.00" font-size="8.2" font-weight="bold" text-anchor="start" fill="#000" textLength="46.50" lengthAdjust="spacingAndGlyphs">CB839 + Pmel</text>
</g>
<g id="panelE">
<text x="-0.40" y="331.30" font-size="15.4" font-weight="bold" text-anchor="start" fill="#000">E</text>
<line x1="28.00" y1="338.00" x2="28.00" y2="430.00" stroke="#8c8c8c" stroke-width="0.9"/>
<line x1="28.00" y1="430.00" x2="183.00" y2="430.00" stroke="#8c8c8c" stroke-width="0.9"/>
<text x="21.30" y="432.70" font-size="7.6" font-weight="bold" text-anchor="end" fill="#000" textLength="3.80" lengthAdjust="spacingAndGlyphs">0</text>
<text x="21.30" y="414.65" font-size="7.6" font-weight="bold" text-anchor="end" fill="#000" textLength="3.80" lengthAdjust="spacingAndGlyphs">5</text>
<text x="21.30" y="396.60" font-size="7.6" font-weight="bold" text-anchor="end" fill="#000" textLength="7.60" lengthAdjust="spacingAndGlyphs">10</text>
<text x="21.30" y="378.55" font-size="7.6" font-weight="bold" text-anchor="end" fill="#000" textLength="7.60" lengthAdjust="spacingAndGlyphs">15</text>
<text x="21.30" y="360.50" font-size="7.6" font-weight="bold" text-anchor="end" fill="#000" textLength="7.60" lengthAdjust="spacingAndGlyphs">20</text>
<text x="21.30" y="342.45" font-size="7.6" font-weight="bold" text-anchor="end" fill="#000" textLength="7.60" lengthAdjust="spacingAndGlyphs">25</text>
<text x="8.70" y="385.00" font-size="8.3" font-weight="bold" text-anchor="middle" fill="#000" textLength="54.50" lengthAdjust="spacingAndGlyphs" transform="rotate(-90 8.70 385.00)">+ve cells/mm<tspan font-size="5.4" dy="-3">2</tspan></text>
<line x1="41.50" y1="402.93" x2="41.50" y2="394.62" stroke="#777" stroke-width="0.7"/>
<line x1="40.00" y1="394.62" x2="43.00" y2="394.62" stroke="#777" stroke-width="0.7"/>
<rect x="37.10" y="402.93" width="8.80" height="27.07" fill="#f0f0f0" stroke="#222" stroke-width="0.9"/>
<line x1="52.70" y1="395.70" x2="52.70" y2="389.21" stroke="#777" stroke-width="0.7"/>
<line x1="51.20" y1="389.21" x2="54.20" y2="389.21" stroke="#777" stroke-width="0.7"/>
<rect x="48.30" y="395.70" width="8.80" height="34.30" fill="#8a8a8a" stroke="#222" stroke-width="0.9"/>
<line x1="80.30" y1="415.56" x2="80.30" y2="403.29" stroke="#777" stroke-width="0.7"/>
<line x1="78.80" y1="403.29" x2="81.80" y2="403.29" stroke="#777" stroke-width="0.7"/>
<rect x="75.90" y="415.56" width="8.80" height="14.44" fill="#f0f0f0" stroke="#222" stroke-width="0.9"/>
<line x1="91.50" y1="390.65" x2="91.50" y2="386.32" stroke="#777" stroke-width="0.7"/>
<line x1="90.00" y1="386.32" x2="93.00" y2="386.32" stroke="#777" stroke-width="0.7"/>
<rect x="87.10" y="390.65" width="8.80" height="39.35" fill="#8a8a8a" stroke="#222" stroke-width="0.9"/>
<line x1="119.30" y1="384.51" x2="119.30" y2="372.24" stroke="#777" stroke-width="0.7"/>
<line x1="117.80" y1="372.24" x2="120.80" y2="372.24" stroke="#777" stroke-width="0.7"/>
<rect x="114.90" y="384.51" width="8.80" height="45.49" fill="#f0f0f0" stroke="#222" stroke-width="0.9"/>
<line x1="130.50" y1="367.19" x2="130.50" y2="357.08" stroke="#777" stroke-width="0.7"/>
<line x1="129.00" y1="357.08" x2="132.00" y2="357.08" stroke="#777" stroke-width="0.7"/>
<rect x="126.10" y="367.19" width="8.80" height="62.81" fill="#8a8a8a" stroke="#222" stroke-width="0.9"/>
<line x1="158.30" y1="369.35" x2="158.30" y2="356.36" stroke="#777" stroke-width="0.7"/>
<line x1="156.80" y1="356.36" x2="159.80" y2="356.36" stroke="#777" stroke-width="0.7"/>
<rect x="153.90" y="369.35" width="8.80" height="60.65" fill="#f0f0f0" stroke="#222" stroke-width="0.9"/>
<line x1="169.50" y1="366.46" x2="169.50" y2="353.83" stroke="#777" stroke-width="0.7"/>
<line x1="168.00" y1="353.83" x2="171.00" y2="353.83" stroke="#777" stroke-width="0.7"/>
<rect x="165.10" y="366.46" width="8.80" height="63.54" fill="#8a8a8a" stroke="#222" stroke-width="0.9"/>
<text x="46.80" y="442.00" font-size="7.6" font-weight="bold" text-anchor="middle" fill="#000" textLength="22.50" lengthAdjust="spacingAndGlyphs">Vehicle</text>
<text x="86.60" y="442.00" font-size="7.6" font-weight="bold" text-anchor="middle" fill="#000" textLength="20.40" lengthAdjust="spacingAndGlyphs">CB839</text>
<text x="124.90" y="442.00" font-size="7.6" font-weight="bold" text-anchor="middle" fill="#000" textLength="17.30" lengthAdjust="spacingAndGlyphs">PMEL</text>
<text x="164.00" y="442.00" font-size="7.6" font-weight="bold" text-anchor="middle" fill="#000" textLength="25.00" lengthAdjust="spacingAndGlyphs">CB839 +</text>
<text x="164.00" y="451.20" font-size="7.6" font-weight="bold" text-anchor="middle" fill="#000" textLength="16.80" lengthAdjust="spacingAndGlyphs">PMEL</text>
<rect x="30.80" y="340.30" width="3.90" height="4.20" fill="#fff" stroke="#222" stroke-width="0.8"/>
<text x="36.80" y="345.40" font-size="7.2" font-weight="bold" text-anchor="start" fill="#000" textLength="11.20" lengthAdjust="spacingAndGlyphs">CD8</text>
<rect x="52.40" y="340.30" width="3.90" height="4.20" fill="#8a8a8a" stroke="#222" stroke-width="0.8"/>
<text x="57.80" y="345.40" font-size="7.2" font-weight="bold" text-anchor="start" fill="#000" textLength="12.60" lengthAdjust="spacingAndGlyphs">CD4</text>
<text x="119.00" y="373.40" font-size="10.5" font-weight="bold" text-anchor="middle" fill="#000" stroke="#000" stroke-width="0.35">*</text>
<text x="130.80" y="355.60" font-size="8" font-weight="bold" text-anchor="middle" fill="#000" textLength="5.00" lengthAdjust="spacingAndGlyphs" stroke="#000" stroke-width="0.35">#</text>
<text x="157.80" y="357.00" font-size="10.5" font-weight="bold" text-anchor="middle" fill="#000" stroke="#000" stroke-width="0.35">*</text>
<text x="170.20" y="352.80" font-size="8" font-weight="bold" text-anchor="middle" fill="#000" textLength="5.00" lengthAdjust="spacingAndGlyphs" stroke="#000" stroke-width="0.35">#</text>
</g>
<g id="panelF">
<text x="241.60" y="420.40" font-size="13.8" font-weight="bold" text-anchor="start" fill="#000">F</text>
<line x1="274.00" y1="428.00" x2="274.00" y2="519.80" stroke="#8c8c8c" stroke-width="0.9"/>
<line x1="274.00" y1="519.80" x2="430.00" y2="519.80" stroke="#8c8c8c" stroke-width="0.9"/>
<text x="267.30" y="522.50" font-size="7.6" font-weight="bold" text-anchor="end" fill="#000" textLength="3.80" lengthAdjust="spacingAndGlyphs">0</text>
<text x="267.30" y="504.45" font-size="7.6" font-weight="bold" text-anchor="end" fill="#000" textLength="7.40" lengthAdjust="spacingAndGlyphs">20</text>
<text x="267.30" y="486.40" font-size="7.6" font-weight="bold" text-anchor="end" fill="#000" textLength="7.40" lengthAdjust="spacingAndGlyphs">40</text>
<text x="267.30" y="468.35" font-size="7.6" font-weight="bold" text-anchor="end" fill="#000" textLength="7.40" lengthAdjust="spacingAndGlyphs">60</text>
<text x="267.30" y="450.30" font-size="7.6" font-weight="bold" text-anchor="end" fill="#000" textLength="7.40" lengthAdjust="spacingAndGlyphs">80</text>
<text x="267.30" y="432.25" font-size="7.6" font-weight="bold" text-anchor="end" fill="#000" textLength="10.60" lengthAdjust="spacingAndGlyphs">100</text>
<text x="252.60" y="473.70" font-size="9.2" font-weight="bold" text-anchor="middle" fill="#000" textLength="65.30" lengthAdjust="spacingAndGlyphs" transform="rotate(-90 252.60 473.70)">% cell numbers</text>
<line x1="288.40" y1="432.26" x2="288.40" y2="430.45" stroke="#777" stroke-width="0.7"/>
<line x1="286.90" y1="430.45" x2="289.90" y2="430.45" stroke="#777" stroke-width="0.7"/>
<rect x="283.80" y="432.26" width="9.20" height="87.54" fill="url(#pk)" stroke="#222" stroke-width="0.9"/>
<line x1="299.20" y1="517.09" x2="299.20" y2="514.38" stroke="#777" stroke-width="0.7"/>
<line x1="297.70" y1="514.38" x2="300.70" y2="514.38" stroke="#777" stroke-width="0.7"/>
<rect x="294.60" y="517.09" width="9.20" height="2.71" fill="url(#pc)" stroke="#222" stroke-width="0.9"/>
<line x1="327.60" y1="439.48" x2="327.60" y2="436.77" stroke="#777" stroke-width="0.7"/>
<line x1="326.10" y1="436.77" x2="329.10" y2="436.77" stroke="#777" stroke-width="0.7"/>
<rect x="323.00" y="439.48" width="9.20" height="80.32" fill="url(#pk)" stroke="#222" stroke-width="0.9"/>
<line x1="338.40" y1="516.64" x2="338.40" y2="513.93" stroke="#777" stroke-width="0.7"/>
<line x1="336.90" y1="513.93" x2="339.90" y2="513.93" stroke="#777" stroke-width="0.7"/>
<rect x="333.80" y="516.64" width="9.20" height="3.16" fill="url(#pc)" stroke="#222" stroke-width="0.9"/>
<line x1="366.90" y1="446.70" x2="366.90" y2="440.38" stroke="#777" stroke-width="0.7"/>
<line x1="365.40" y1="440.38" x2="368.40" y2="440.38" stroke="#777" stroke-width="0.7"/>
<rect x="362.30" y="446.70" width="9.20" height="73.10" fill="url(#pk)" stroke="#222" stroke-width="0.9"/>
<line x1="377.70" y1="494.53" x2="377.70" y2="489.11" stroke="#777" stroke-width="0.7"/>
<line x1="376.20" y1="489.11" x2="379.20" y2="489.11" stroke="#777" stroke-width="0.7"/>
<rect x="373.10" y="494.53" width="9.20" height="25.27" fill="url(#pc)" stroke="#222" stroke-width="0.9"/>
<line x1="405.60" y1="477.38" x2="405.60" y2="467.45" stroke="#777" stroke-width="0.7"/>
<line x1="404.10" y1="467.45" x2="407.10" y2="467.45" stroke="#777" stroke-width="0.7"/>
<rect x="401.00" y="477.38" width="9.20" height="42.42" fill="url(#pk)" stroke="#222" stroke-width="0.9"/>
<line x1="416.40" y1="451.21" x2="416.40" y2="446.70" stroke="#777" stroke-width="0.7"/>
<line x1="414.90" y1="446.70" x2="417.90" y2="446.70" stroke="#777" stroke-width="0.7"/>
<rect x="411.80" y="451.21" width="9.20" height="68.59" fill="url(#pc)" stroke="#222" stroke-width="0.9"/>
<text x="294.00" y="532.60" font-size="7.6" font-weight="bold" text-anchor="middle" fill="#000" textLength="22.50" lengthAdjust="spacingAndGlyphs">Vehicle</text>
<text x="333.50" y="532.60" font-size="7.6" font-weight="bold" text-anchor="middle" fill="#000" textLength="19.80" lengthAdjust="spacingAndGlyphs">CB839</text>
<text x="372.50" y="532.60" font-size="7.6" font-weight="bold" text-anchor="middle" fill="#000" textLength="16.80" lengthAdjust="spacingAndGlyphs">PMEL</text>
<text x="411.40" y="532.60" font-size="7.6" font-weight="bold" text-anchor="middle" fill="#000" textLength="25.20" lengthAdjust="spacingAndGlyphs">CB839 +</text>
<text x="411.40" y="541.20" font-size="7.6" font-weight="bold" text-anchor="middle" fill="#000" textLength="16.60" lengthAdjust="spacingAndGlyphs">PMEL</text>
<rect x="372.40" y="428.90" width="4.00" height="4.30" fill="url(#pk)" stroke="#222" stroke-width="0.8"/>
<text x="377.90" y="433.80" font-size="7.2" font-weight="bold" text-anchor="start" fill="#000" textLength="13.10" lengthAdjust="spacingAndGlyphs">Ki67</text>
<rect x="397.40" y="428.90" width="4.00" height="4.30" fill="url(#pc)" stroke="#222" stroke-width="0.8"/>
<text x="402.30" y="433.80" font-size="7.2" font-weight="bold" text-anchor="start" fill="#000" textLength="24.20" lengthAdjust="spacingAndGlyphs">Cl. Csp3</text>
<text x="327.50" y="437.40" font-size="10.5" font-weight="bold" text-anchor="middle" fill="#000" stroke="#000" stroke-width="0.35">*</text>
<text x="366.40" y="441.60" font-size="10.5" font-weight="bold" text-anchor="middle" fill="#000" stroke="#000" stroke-width="0.35">*</text>
<text x="377.80" y="488.40" font-size="8" font-weight="bold" text-anchor="middle" fill="#000" textLength="5.00" lengthAdjust="spacingAndGlyphs" stroke="#000" stroke-width="0.35">#</text>
<text x="405.30" y="468.00" font-size="10.5" font-weight="bold" text-anchor="middle" fill="#000" stroke="#000" stroke-width="0.35">*</text>
<text x="416.70" y="443.60" font-size="8" font-weight="bold" text-anchor="middle" fill="#000" textLength="5.00" lengthAdjust="spacingAndGlyphs" stroke="#000" stroke-width="0.35">#</text>
</g>
<g id="panelG">
<text x="44.20" y="478.00" font-size="15" font-weight="bold" text-anchor="start" fill="#000">G</text>
<line x1="77.80" y1="483.60" x2="77.80" y2="581.60" stroke="#8c8c8c" stroke-width="0.9"/>
<line x1="77.80" y1="581.60" x2="151.80" y2="581.60" stroke="#8c8c8c" stroke-width="0.9"/>
<text x="69.50" y="584.50" font-size="8.4" font-weight="bold" text-anchor="end" fill="#000" textLength="4.20" lengthAdjust="spacingAndGlyphs">0</text>
<text x="69.50" y="570.62" font-size="8.4" font-weight="bold" text-anchor="end" fill="#000" textLength="4.20" lengthAdjust="spacingAndGlyphs">2</text>
<text x="69.50" y="556.74" font-size="8.4" font-weight="bold" text-anchor="end" fill="#000" textLength="4.20" lengthAdjust="spacingAndGlyphs">4</text>
<text x="69.50" y="542.86" font-size="8.4" font-weight="bold" text-anchor="end" fill="#000" textLength="4.20" lengthAdjust="spacingAndGlyphs">6</text>
<text x="69.50" y="528.98" font-size="8.4" font-weight="bold" text-anchor="end" fill="#000" textLength="4.20" lengthAdjust="spacingAndGlyphs">8</text>
<text x="69.50" y="515.10" font-size="8.4" font-weight="bold" text-anchor="end" fill="#000" textLength="8.60" lengthAdjust="spacingAndGlyphs">10</text>
<text x="69.50" y="501.22" font-size="8.4" font-weight="bold" text-anchor="end" fill="#000" textLength="8.60" lengthAdjust="spacingAndGlyphs">12</text>
<text x="69.50" y="487.34" font-size="8.4" font-weight="bold" text-anchor="end" fill="#000" textLength="8.60" lengthAdjust="spacingAndGlyphs">14</text>
<text x="55.60" y="536.50" font-size="8.4" font-weight="bold" text-anchor="middle" fill="#000" textLength="69.00" lengthAdjust="spacingAndGlyphs" transform="rotate(-90 55.60 536.50)">IFNγ+ pmel TILS (%)</text>
<rect x="90.00" y="529.55" width="12.00" height="52.05" fill="#dcdcdc" stroke="#222" stroke-width="0.7"/>
<line x1="132.70" y1="501.10" x2="132.70" y2="486.18" stroke="#777" stroke-width="0.7"/>
<line x1="131.20" y1="486.18" x2="134.20" y2="486.18" stroke="#777" stroke-width="0.7"/>
<rect x="126.70" y="501.10" width="12.00" height="80.50" fill="#808080" stroke="#222" stroke-width="0.7"/>
<path d="M94.5 483.7 V479.5 H132.5 V485" fill="none" stroke="#000" stroke-width="0.9"/>
<text x="114.30" y="481.60" font-size="11" font-weight="bold" text-anchor="middle" fill="#000" stroke="#000" stroke-width="0.35">*</text>
<text x="96.00" y="596.60" font-size="9" font-weight="bold" text-anchor="middle" fill="#000" textLength="18.30" lengthAdjust="spacingAndGlyphs">Pmel</text>
<text x="133.00" y="596.60" font-size="9" font-weight="bold" text-anchor="middle" fill="#000" textLength="31.00" lengthAdjust="spacingAndGlyphs">CB839 +</text>
<text x="131.50" y="606.40" font-size="9" font-weight="bold" text-anchor="middle" fill="#000" textLength="18.30" lengthAdjust="spacingAndGlyphs">Pmel</text>
</g>
</svg>
</body></html>
